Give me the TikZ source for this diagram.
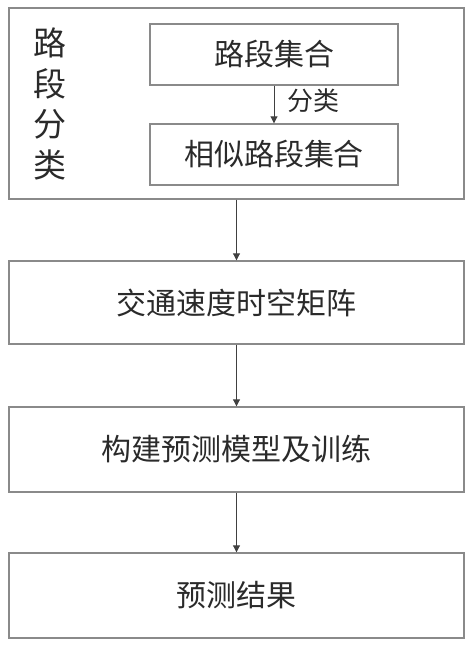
\documentclass[tikz,border=0pt]{standalone}
\usepackage{fontspec}
\setmainfont{Noto Sans CJK SC}
\usetikzlibrary{arrows.meta}
\definecolor{linegray}{HTML}{8A8A8A}
\definecolor{textgray}{HTML}{2A2A2A}
\tikzset{
  x=1pt,y=-1pt,
  box/.style={draw=linegray,line width=1.4pt,inner sep=0pt,text=textgray,font=\fontsize{30}{33}\selectfont},
  conn/.style={draw=black!75,line width=0.9pt,-{Triangle[length=7pt,width=7pt]}},
}
\begin{document}
\begin{tikzpicture}
\useasboundingbox (0,0) rectangle (474,649);
\node[box,minimum width=455pt,minimum height=191pt] (outer) at (236.5,103.5) {};
\node[box,minimum width=248pt,minimum height=61pt] (a) at (274,54.5) {路段集合};
\node[box,minimum width=248pt,minimum height=61pt] (b) at (274,154.5) {相似路段集合};
\node[text=textgray,font=\fontsize{33}{40.5}\selectfont,align=center,inner sep=0pt] (title) at (50,104) {路\\段\\分\\类};
\node[box,minimum width=455pt,minimum height=83pt] (c) at (236.5,302.5) {交通速度时空矩阵};
\node[box,minimum width=455pt,minimum height=85pt] (d) at (236.5,449.5) {构建预测模型及训练};
\node[box,minimum width=455pt,minimum height=85pt] (e) at (236.5,595.5) {预测结果};
\draw[conn] (a) -- node[right=13pt,text=textgray,font=\fontsize{26}{28}\selectfont,pos=0.4,inner sep=0pt] {分类} (b);
\draw[conn] (outer.south -| c.north) -- (c);
\draw[conn] (c) -- (d);
\draw[conn] (d) -- (e);
\end{tikzpicture}
\end{document}
